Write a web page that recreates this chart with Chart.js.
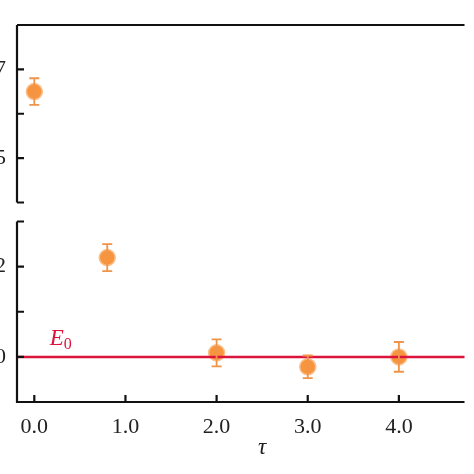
<!DOCTYPE html>
<html>
<head>
<meta charset="utf-8">
<script src="https://cdn.jsdelivr.net/npm/chart.js@4"></script>
<style>
  body { margin: 0; width: 474px; height: 474px; overflow: hidden; background: #fff; position: relative; }
  canvas { position: absolute; }
</style>
</head>
<body>
<canvas id="top" style="left:-20px;top:0;width:494px;height:212px"></canvas>
<canvas id="bottom" style="left:-20px;top:212px;width:494px;height:262px"></canvas>
<script>
// data
var tau = [0.0, 0.8, 2.0, 3.0, 4.0];
var energy = [6.5, 2.2, 0.09, -0.22, 0.0];
var errs = [0.3, 0.3, 0.3, 0.25, 0.33];
var E0 = 0;
var xTickLabels = [0, 1, 2, 3, 4];
var topTickLabels = [5, 7];
var bottomTickLabels = [0, 2];

var serif = "'Liberation Serif', 'DejaVu Serif', serif";
var orange = '#f7953f';

var points = tau.map((t, i) => ({ x: t, y: energy[i] }));

// inward ticks, axis lines, error bars, reference line
var framePlugin = {
    id: 'frame',
    afterDatasetsDraw(chart, args, opts) {
        const ctx = chart.ctx;
        const a = chart.chartArea;
        const xs = chart.scales.x, ys = chart.scales.y;
        ctx.save();
        // E0 line
        if (opts.bottom) {
            const py = ys.getPixelForValue(E0);
            ctx.strokeStyle = '#dc143c';
            ctx.lineWidth = 2.5;
            ctx.beginPath(); ctx.moveTo(a.left, py); ctx.lineTo(a.right, py); ctx.stroke();
            ctx.fillStyle = '#dc143c';
            ctx.font = 'italic 23px ' + serif;
            ctx.fillText('E', xs.getPixelForValue(0.17), py - 12);
            ctx.font = '16px ' + serif;
            ctx.fillText('0', xs.getPixelForValue(0.17) + 14, py - 8);
        }
        // error bars
        ctx.strokeStyle = '#f0944a';
        ctx.lineWidth = 1.8;
        points.forEach((p, i) => {
            if (p.y + errs[i] < ys.min || p.y - errs[i] > ys.max) return;
            const px = xs.getPixelForValue(p.x);
            const y1 = ys.getPixelForValue(p.y + errs[i]);
            const y2 = ys.getPixelForValue(p.y - errs[i]);
            ctx.beginPath();
            ctx.moveTo(px, y1); ctx.lineTo(px, y2);
            ctx.moveTo(px - 5, y1); ctx.lineTo(px + 5, y1);
            ctx.moveTo(px - 5, y2); ctx.lineTo(px + 5, y2);
            ctx.stroke();
        });
        ctx.restore();
    },
    afterDraw(chart, args, opts) {
        const ctx = chart.ctx;
        const a = chart.chartArea;
        const xs = chart.scales.x, ys = chart.scales.y;
        ctx.save();
        ctx.strokeStyle = '#111';
        ctx.lineWidth = 2.2;
        ctx.beginPath();
        ctx.moveTo(a.left, a.top); ctx.lineTo(a.left, a.bottom);
        if (opts.bottom) {
            ctx.lineTo(a.right, a.bottom);
            ctx.moveTo(a.left, a.top); ctx.lineTo(a.left + 7, a.top);
        } else {
            ctx.moveTo(a.right, a.top); ctx.lineTo(a.left, a.top);
            ctx.moveTo(a.left, a.bottom); ctx.lineTo(a.left + 7, a.bottom);
        }
        ys.ticks.forEach(t => {
            const py = ys.getPixelForValue(t.value);
            ctx.moveTo(a.left, py); ctx.lineTo(a.left + 7, py);
        });
        if (opts.bottom) {
            xTickLabels.forEach(v => {
                const px = xs.getPixelForValue(v);
                ctx.moveTo(px, a.bottom); ctx.lineTo(px, a.bottom - 7);
            });
        }
        ctx.stroke();
        // tick labels
        ctx.fillStyle = '#222';
        ctx.font = '22px ' + serif;
        ctx.textAlign = 'right';
        ctx.textBaseline = 'middle';
        opts.labels.forEach(v => {
            ctx.fillText(String(v), a.left - 11, ys.getPixelForValue(v));
        });
        if (opts.bottom) {
            ctx.textAlign = 'center';
            ctx.textBaseline = 'alphabetic';
            xTickLabels.forEach(v => {
                ctx.fillText(v.toFixed(1), xs.getPixelForValue(v), a.bottom + 31);
            });
            ctx.font = 'italic 23px ' + serif;
            ctx.fillText('τ', xs.getPixelForValue(2.5), a.bottom + 52);
        }
        ctx.restore();
    }
};

function makeChart(id, ymin, ymax, labels, bottom) {
    return new Chart(document.getElementById(id), {
        type: 'scatter',
        data: {
            datasets: [{
                data: points,
                backgroundColor: orange,
                borderColor: '#fbc08e',
                borderWidth: 1.5,
                pointRadius: 8,
                pointHoverRadius: 8
            }]
        },
        options: {
            responsive: false,
            maintainAspectRatio: false,
            animation: false,
            clip: false,
            layout: { padding: bottom ? { top: 5, bottom: 72, left: 37, right: 0 } : { top: 25, bottom: 2, left: 37, right: 0 } },
            plugins: { legend: { display: false }, tooltip: { enabled: false }, frame: { bottom: bottom, labels: labels } },
            scales: {
                x: { type: 'linear', min: -0.19, max: 4.72, display: false },
                y: { min: ymin, max: ymax, display: false, ticks: { stepSize: 1 } }
            }
        },
        plugins: [framePlugin]
    });
}

makeChart('top', 4, 8, topTickLabels, false);
makeChart('bottom', -1, 3, bottomTickLabels, true);
</script>
</body>
</html>
